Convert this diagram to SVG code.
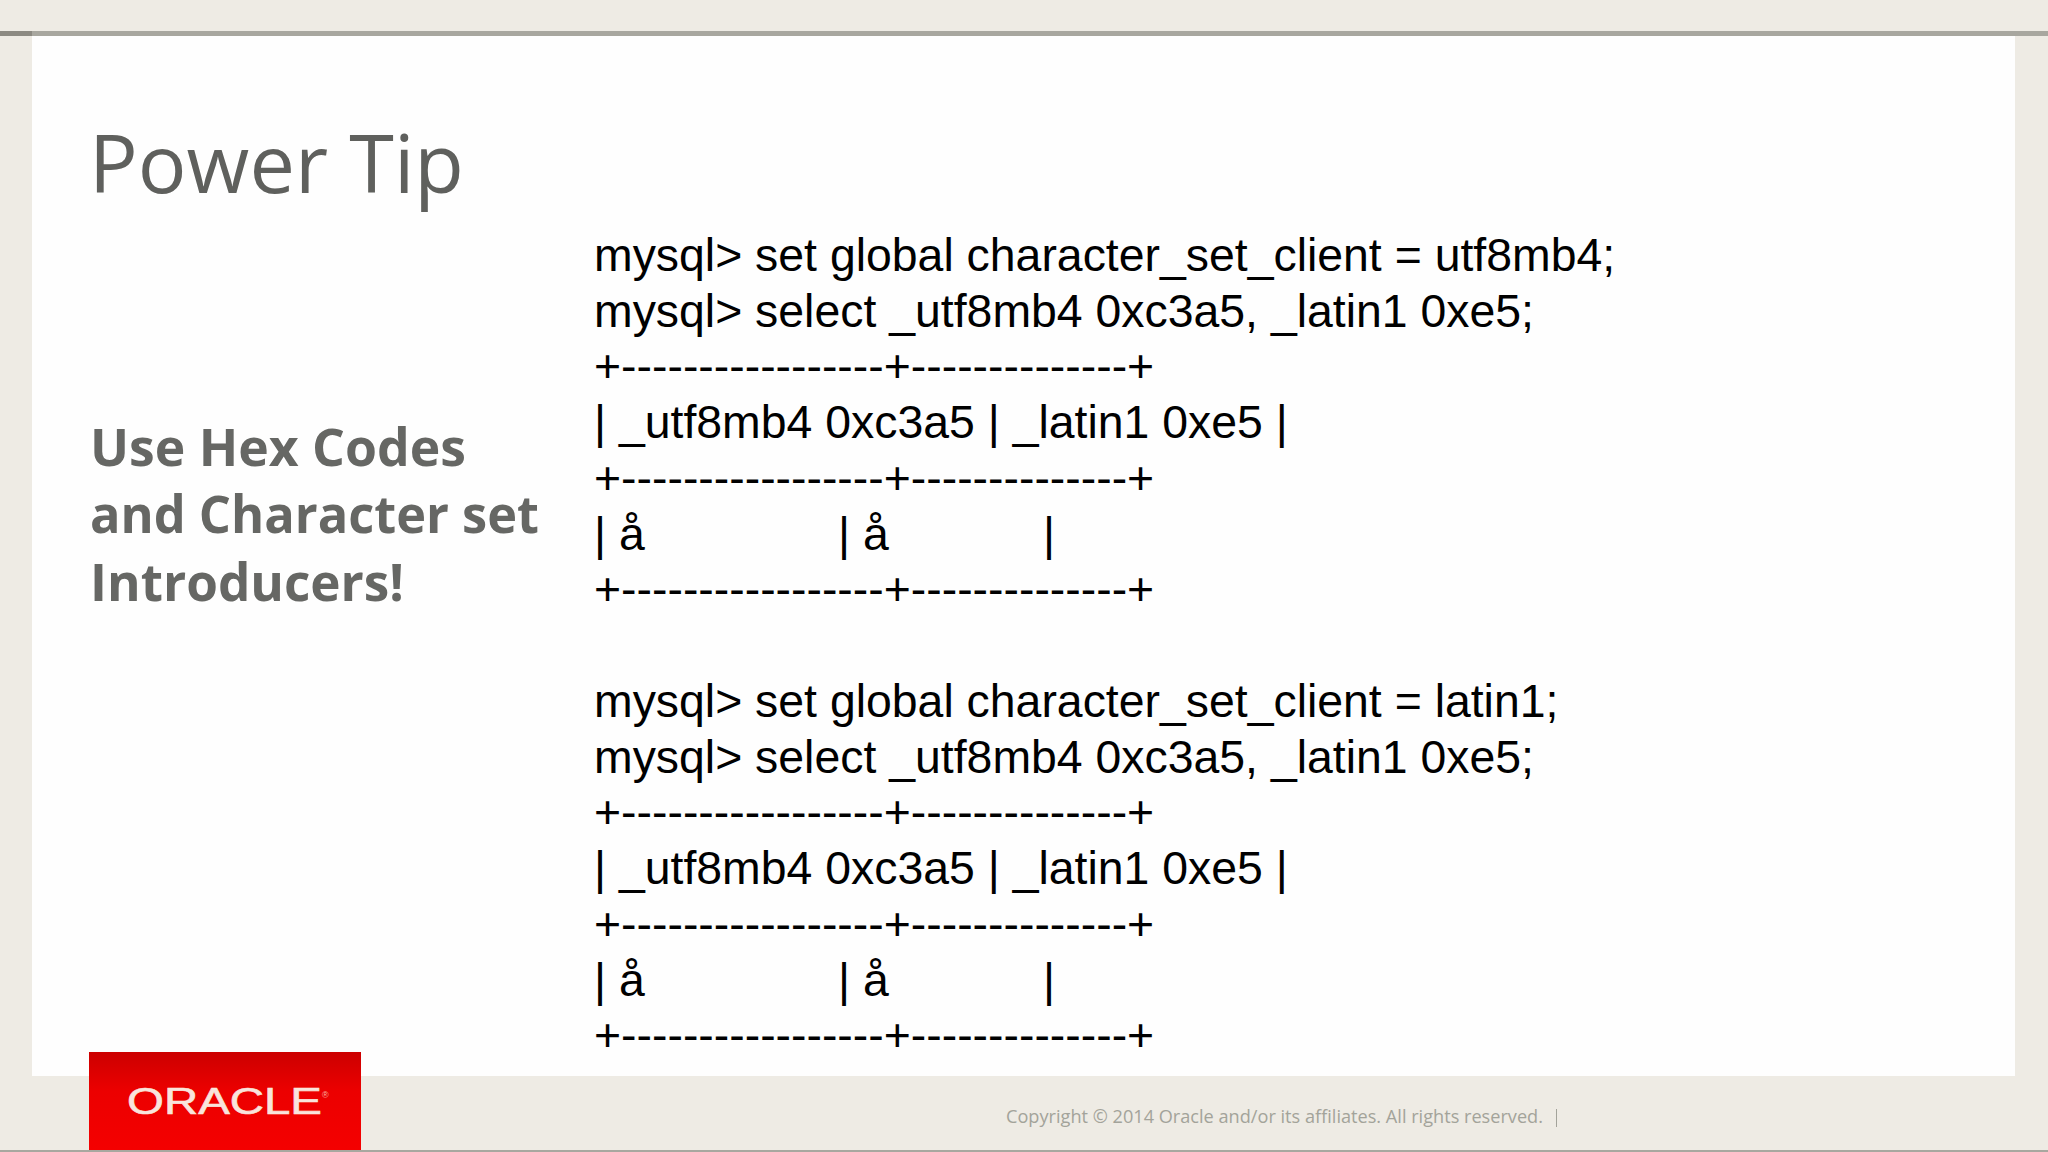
<svg xmlns="http://www.w3.org/2000/svg" width="2048" height="1152" viewBox="0 0 2048 1152">
<defs>
<linearGradient id="red" x1="0" y1="0" x2="0" y2="1"><stop offset="0" stop-color="#cc0000"/><stop offset="0.4" stop-color="#ec0000"/><stop offset="1" stop-color="#f40000"/></linearGradient>
</defs>
<style>
.m{font-family:"Liberation Sans",Arial,sans-serif;font-size:46.4px;fill:#000;white-space:pre}
.t{font-family:"Open Sans","Noto Sans",sans-serif;fill:#5f605d}
.b{font-family:"Open Sans","Noto Sans",sans-serif;font-weight:700;font-size:52px;fill:#666764}
</style>
<rect width="2048" height="1152" fill="#eeebe4"/>
<rect x="0" y="31" width="2048" height="5" fill="#a8a79f"/>
<rect x="0" y="31" width="32" height="5" fill="#8c8a82"/>
<rect x="32" y="36" width="1983" height="1040" fill="#fefefe"/>
<rect x="0" y="1150" width="2048" height="2" fill="#a8a79f"/>
<text class="t" x="89" y="193" font-size="81" textLength="375" lengthAdjust="spacingAndGlyphs">Power Tip</text>
<g id="subtitle">
<text class="b" x="90" y="466" textLength="376" lengthAdjust="spacingAndGlyphs">Use Hex Codes</text>
<text class="b" x="90" y="533" textLength="449" lengthAdjust="spacingAndGlyphs">and Character set</text>
<text class="b" x="90" y="601" textLength="314" lengthAdjust="spacingAndGlyphs">Introducers!</text>
</g>
<g id="block1">
<text class="m" x="594" y="271">mysql&gt; set global character_set_client = utf8mb4;</text>
<text class="m" x="594" y="327">mysql&gt; select _utf8mb4 0xc3a5, _latin1 0xe5;</text>
<text class="m" x="594" y="382">+-----------------+--------------+</text>
<text class="m" x="594" y="438">| _utf8mb4 0xc3a5 | _latin1 0xe5 |</text>
<text class="m" x="594" y="494">+-----------------+--------------+</text>
<text class="m" y="550"><tspan x="594">| å</tspan><tspan x="838">| å</tspan><tspan x="1043">|</tspan></text>
<text class="m" x="594" y="605">+-----------------+--------------+</text>
</g>
<g id="block2">
<text class="m" x="594" y="717">mysql&gt; set global character_set_client = latin1;</text>
<text class="m" x="594" y="773">mysql&gt; select _utf8mb4 0xc3a5, _latin1 0xe5;</text>
<text class="m" x="594" y="828">+-----------------+--------------+</text>
<text class="m" x="594" y="884">| _utf8mb4 0xc3a5 | _latin1 0xe5 |</text>
<text class="m" x="594" y="940">+-----------------+--------------+</text>
<text class="m" y="996"><tspan x="594">| å</tspan><tspan x="838">| å</tspan><tspan x="1043">|</tspan></text>
<text class="m" x="594" y="1051">+-----------------+--------------+</text>
</g>
<g id="logo">
<rect x="89" y="1052" width="272" height="98" fill="url(#red)"/>
<text x="127" y="1114" font-family="Liberation Sans,sans-serif" font-size="36" fill="#f9e4dc" stroke="#f9e4dc" stroke-width="0.6" textLength="195" lengthAdjust="spacingAndGlyphs">ORACLE</text>
<text x="322" y="1098" font-family="Liberation Sans,sans-serif" font-size="9" fill="#f9b0a0">®</text>
</g>
<text x="1006" y="1123" font-family="Open Sans,sans-serif" font-size="19" fill="#a3a39a" textLength="537" lengthAdjust="spacingAndGlyphs">Copyright © 2014 Oracle and/or its affiliates. All rights reserved.</text>
<rect x="1556" y="1109" width="1" height="18" fill="#a3a39a"/>
</svg>
